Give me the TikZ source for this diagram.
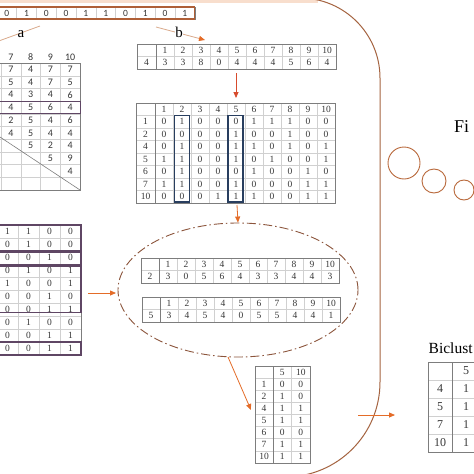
\documentclass[tikz,border=0pt]{standalone}
\usepackage{fontspec}
\setmainfont{Liberation Serif}
\newfontfamily\calfont{Carlito}
\usetikzlibrary{arrows.meta,shapes.geometric}
\definecolor{framec}{RGB}{165,100,65}
\definecolor{ellc}{RGB}{140,85,60}
\definecolor{circc}{RGB}{185,105,60}
\definecolor{arrc}{RGB}{228,108,40}
\definecolor{redarr}{RGB}{215,75,45}
\definecolor{tanc}{RGB}{218,170,140}
\definecolor{bluec}{RGB}{40,62,95}
\definecolor{purpc}{RGB}{95,70,100}
\definecolor{gout}{RGB}{125,125,125}
\definecolor{gin}{RGB}{208,208,208}
\definecolor{txtc}{RGB}{55,55,55}
\definecolor{peach}{RGB}{248,222,205}
\definecolor{bitc}{RGB}{175,95,55}
\tikzset{
  gin/.style={draw=gin,line width=0.4pt},
  gout/.style={draw=gout,line width=0.6pt},
  cell/.style={inner sep=0pt,text=txtc},
  arr/.style={draw=arrc,line width=0.8pt,-{Triangle[length=6pt,width=5pt]}},
  bluebox/.style={draw=bluec,line width=1.3pt},
  purpbox/.style={draw=purpc,line width=1.1pt},
  lbl/.style={inner sep=0pt,text=black},
}
\newcommand\tabgrid[7]{%
 \pgfmathsetmacro\tgxa{#1+#3}%
 \pgfmathsetmacro\tgxb{#1+#3+#4*#5}%
 \pgfmathsetmacro\tgyb{#2+#6*#7}%
 \foreach \i in {1,...,#5}{\draw[gin] ({\tgxa+\i*#4},#2) -- ({\tgxa+\i*#4},\tgyb);}%
 \foreach \j in {1,...,#7}{\draw[gin] (#1,{#2+\j*#6}) -- (\tgxb,{#2+\j*#6});}%
 \draw[gout] (#1,#2) rectangle (\tgxb,\tgyb);%
 \draw[gout] (\tgxa,#2) -- (\tgxa,\tgyb);}
\newcommand\datarow[5]{%
 \foreach \v [count=\c] in {#5}{\node[cell] (#1-\c) at ({#2+(\c-0.5)*#3},#4) {\v};}}
\newcommand\labrow[7]{%
 \node[cell] (#1-0) at ({#2+#3/2},#5) {#6};
 \datarow{#1}{#2+#3}{#4}{#5}{#7}}
\begin{document}
\begin{tikzpicture}[x=1pt,y=-1pt]
\useasboundingbox (0,0) rectangle (474,474);
\fill[white] (0,0) rectangle (474,474);
% top pale band and big frame
\fill[peach] (0,0) rectangle (318,2.5);
\draw[draw=framec,line width=1pt] (-20,-2) -- (300,-2) .. controls (344.2,-2) and (380,33.8) .. (380,78) -- (380,382) .. controls (380,434.5) and (337.5,477) .. (285,477) -- (-20,477);

% ---- bit string
\begin{scope}[font=\calfont\fontsize{9.5}{10}\selectfont]
\tabgrid{-23}{7}{0}{19.8}{11}{12}{1}
\draw[draw=bitc,line width=1.3pt] (-30,7) rectangle (194.8,19);
\datarow{bit}{-3.2}{19.8}{13}{0,1,0,0,1,1,0,1,0,1}
\end{scope}

% ---- labels a, b
\coordinate (aS) at (40,26);
\coordinate (aE) at (-4,42);
\draw[draw=tanc,line width=0.8pt] (aS) -- (aE);
\node[lbl,font=\fontsize{15}{15}\selectfont] (la) at (21,34) {a};
\coordinate (bS) at (156,27);
\coordinate (bE) at (205,40);
\draw[draw=tanc,line width=0.8pt,-{Triangle[length=6pt,width=5pt,color=arrc]}] (bS) -- (bE);
\node[lbl,font=\fontsize{15}{15}\selectfont,fill=white,inner sep=0.5pt] (lb) at (179,32) {b};

% ---- table A (top left)
\begin{scope}[font=\calfont\fontsize{10}{10}\selectfont]
\tabgrid{-18.75}{63}{0}{19.75}{5}{12.7}{10}
\draw[draw=gout,line width=0.6pt] (0,137) -- (80,190);
\datarow{ah}{1}{19.75}{57}{7,8,9,10}
\datarow{a1}{1}{19.75}{69.35}{7,4,7,7}
\datarow{a2}{1}{19.75}{82.05}{5,4,7,5}
\datarow{a3}{1}{19.75}{94.75}{4,3,4,6}
\datarow{a4}{1}{19.75}{107.45}{4,5,6,4}
\datarow{a5}{1}{19.75}{120.15}{2,5,4,6}
\datarow{a6}{1}{19.75}{132.85}{4,5,4,4}
\datarow{a7}{1}{19.75}{145.55}{{},5,2,4}
\datarow{a8}{1}{19.75}{158.25}{{},{},5,9}
\datarow{a9}{1}{19.75}{170.95}{{},{},{},4}
\draw[purpbox] (-10,101.2) rectangle (80.3,113.8);
\end{scope}

% ---- table B (bottom left)
\begin{scope}[font=\fontsize{9.5}{10}\selectfont]
\tabgrid{-24}{225}{0}{21}{5}{13}{10}
\datarow{B1}{-3}{21}{231.5}{1,1,0,0}
\datarow{B2}{-3}{21}{244.5}{0,1,0,0}
\datarow{B3}{-3}{21}{257.5}{0,0,1,0}
\datarow{B4}{-3}{21}{270.5}{0,1,0,1}
\datarow{B5}{-3}{21}{283.5}{1,0,0,1}
\datarow{B6}{-3}{21}{296.5}{0,0,1,0}
\datarow{B7}{-3}{21}{309.5}{0,0,1,1}
\datarow{B8}{-3}{21}{322.5}{0,1,0,0}
\datarow{B9}{-3}{21}{335.5}{0,0,1,1}
\datarow{B10}{-3}{21}{348.5}{0,0,1,1}
\draw[purpbox] (-10,225) rectangle (81,251);
\draw[purpbox] (-10,252.5) rectangle (81,265);
\draw[purpbox] (-10,266.5) rectangle (81,312.5);
\draw[purpbox] (-10,342) rectangle (81,355);
\end{scope}

% ---- table b1
\begin{scope}[font=\fontsize{9.5}{10}\selectfont]
\tabgrid{137}{44}{19}{18}{10}{12.5}{2}
\datarow{b1h}{156}{18}{50.25}{1,2,3,4,5,6,7,8,9,10}
\labrow{b1r}{137}{19}{18}{62.75}{4}{3,3,8,0,4,4,4,5,6,4}

% ---- table b2
\tabgrid{136}{103}{19}{18}{10}{12.5}{8}
\datarow{b2h}{155}{18}{109.25}{1,2,3,4,5,6,7,8,9,10}
\labrow{b2r1}{136}{19}{18}{121.75}{1}{0,1,0,0,0,1,1,1,0,0}
\labrow{b2r2}{136}{19}{18}{134.25}{2}{0,0,0,0,1,0,0,1,0,0}
\labrow{b2r4}{136}{19}{18}{146.75}{4}{0,1,0,0,1,1,0,1,0,1}
\labrow{b2r5}{136}{19}{18}{159.25}{5}{1,1,0,0,1,0,1,0,0,1}
\labrow{b2r6}{136}{19}{18}{171.75}{6}{0,1,0,0,0,1,0,0,1,0}
\labrow{b2r7}{136}{19}{18}{184.25}{7}{1,1,0,0,1,0,0,0,1,1}
\labrow{b2r10}{136}{19}{18}{196.75}{10}{0,0,0,1,1,1,0,0,1,1}
\draw[bluebox] (174.5,115.5) rectangle (189.5,202);
\draw[bluebox] (228,115.5) rectangle (243,202);

% ---- tables c1, c2
\tabgrid{141}{258}{18}{18}{10}{12.5}{2}
\datarow{c1h}{159}{18}{264.25}{1,2,3,4,5,6,7,8,9,10}
\labrow{c1r}{141}{18}{18}{276.75}{2}{3,0,5,6,4,3,3,4,4,3}
\tabgrid{142}{297}{18}{18}{10}{12.5}{2}
\datarow{c2h}{160}{18}{303.25}{1,2,3,4,5,6,7,8,9,10}
\labrow{c2r}{142}{18}{18}{315.75}{5}{3,4,5,4,0,5,5,4,4,1}

% ---- table d
\tabgrid{255}{366}{18}{18.5}{2}{12.1}{8}
\datarow{dh}{273}{18.5}{372.05}{5,10}
\labrow{dr1}{255}{18}{18.5}{384.15}{1}{0,0}
\labrow{dr2}{255}{18}{18.5}{396.25}{2}{1,0}
\labrow{dr4}{255}{18}{18.5}{408.35}{4}{1,1}
\labrow{dr5}{255}{18}{18.5}{420.45}{5}{1,1}
\labrow{dr6}{255}{18}{18.5}{432.55}{6}{0,0}
\labrow{dr7}{255}{18}{18.5}{444.65}{7}{1,1}
\labrow{dr10}{255}{18}{18.5}{456.75}{10}{1,1}
\end{scope}

% ---- table e
\begin{scope}[font=\fontsize{12}{12}\selectfont]
\tabgrid{428}{362}{24}{28}{2}{18}{5}
\datarow{eh}{452}{28}{371}{5}
\labrow{er4}{428}{24}{28}{389}{4}{1}
\labrow{er5}{428}{24}{28}{407}{5}{1}
\labrow{er7}{428}{24}{28}{425}{7}{1}
\labrow{er10}{428}{24}{28}{443}{10}{1}
\end{scope}

% ---- ellipse
\node[ellipse,draw=ellc,line width=0.9pt,minimum width=240pt,minimum height=134pt,inner sep=0pt,
  dash pattern=on 9pt off 3pt on 1.5pt off 3pt] (ell) at (238,290) {};

% ---- circles
\node[circle,draw=circc,line width=0.9pt,minimum size=32pt,inner sep=0pt] (c1) at (404,163) {};
\node[circle,draw=circc,line width=0.9pt,minimum size=24pt,inner sep=0pt] (c2) at (434,181) {};
\node[circle,draw=circc,line width=0.9pt,minimum size=20pt,inner sep=0pt] (c3) at (464,190) {};

% ---- big labels
\node[lbl,anchor=west,font=\fontsize{18}{18}\selectfont] (fi) at (454,127) {Fi};
\node[lbl,anchor=west,font=\fontsize{15.5}{16}\selectfont] (bic) at (428.5,348) {Biclust};

% ---- arrows
\coordinate (p1s) at (236,73);
\coordinate (p1e) at (236,98);
\draw[arr,draw=redarr,-{Triangle[length=6pt,width=5pt,color=redarr]}] (p1s) -- (p1e);
\coordinate (p2s) at (237,205);
\draw[arr] (p2s) -- (ell.north);
\coordinate (p3s) at (88,293);
\coordinate (p3e) at (116,293);
\draw[arr] (p3s) -- (p3e);
\coordinate (p4s) at (228,357);
\coordinate (p4e) at (251,410);
\draw[arr] (p4s) -- (p4e);
\coordinate (p5s) at (358,415);
\coordinate (p5e) at (395,415);
\draw[arr] (p5s) -- (p5e);
\end{tikzpicture}
\end{document}
